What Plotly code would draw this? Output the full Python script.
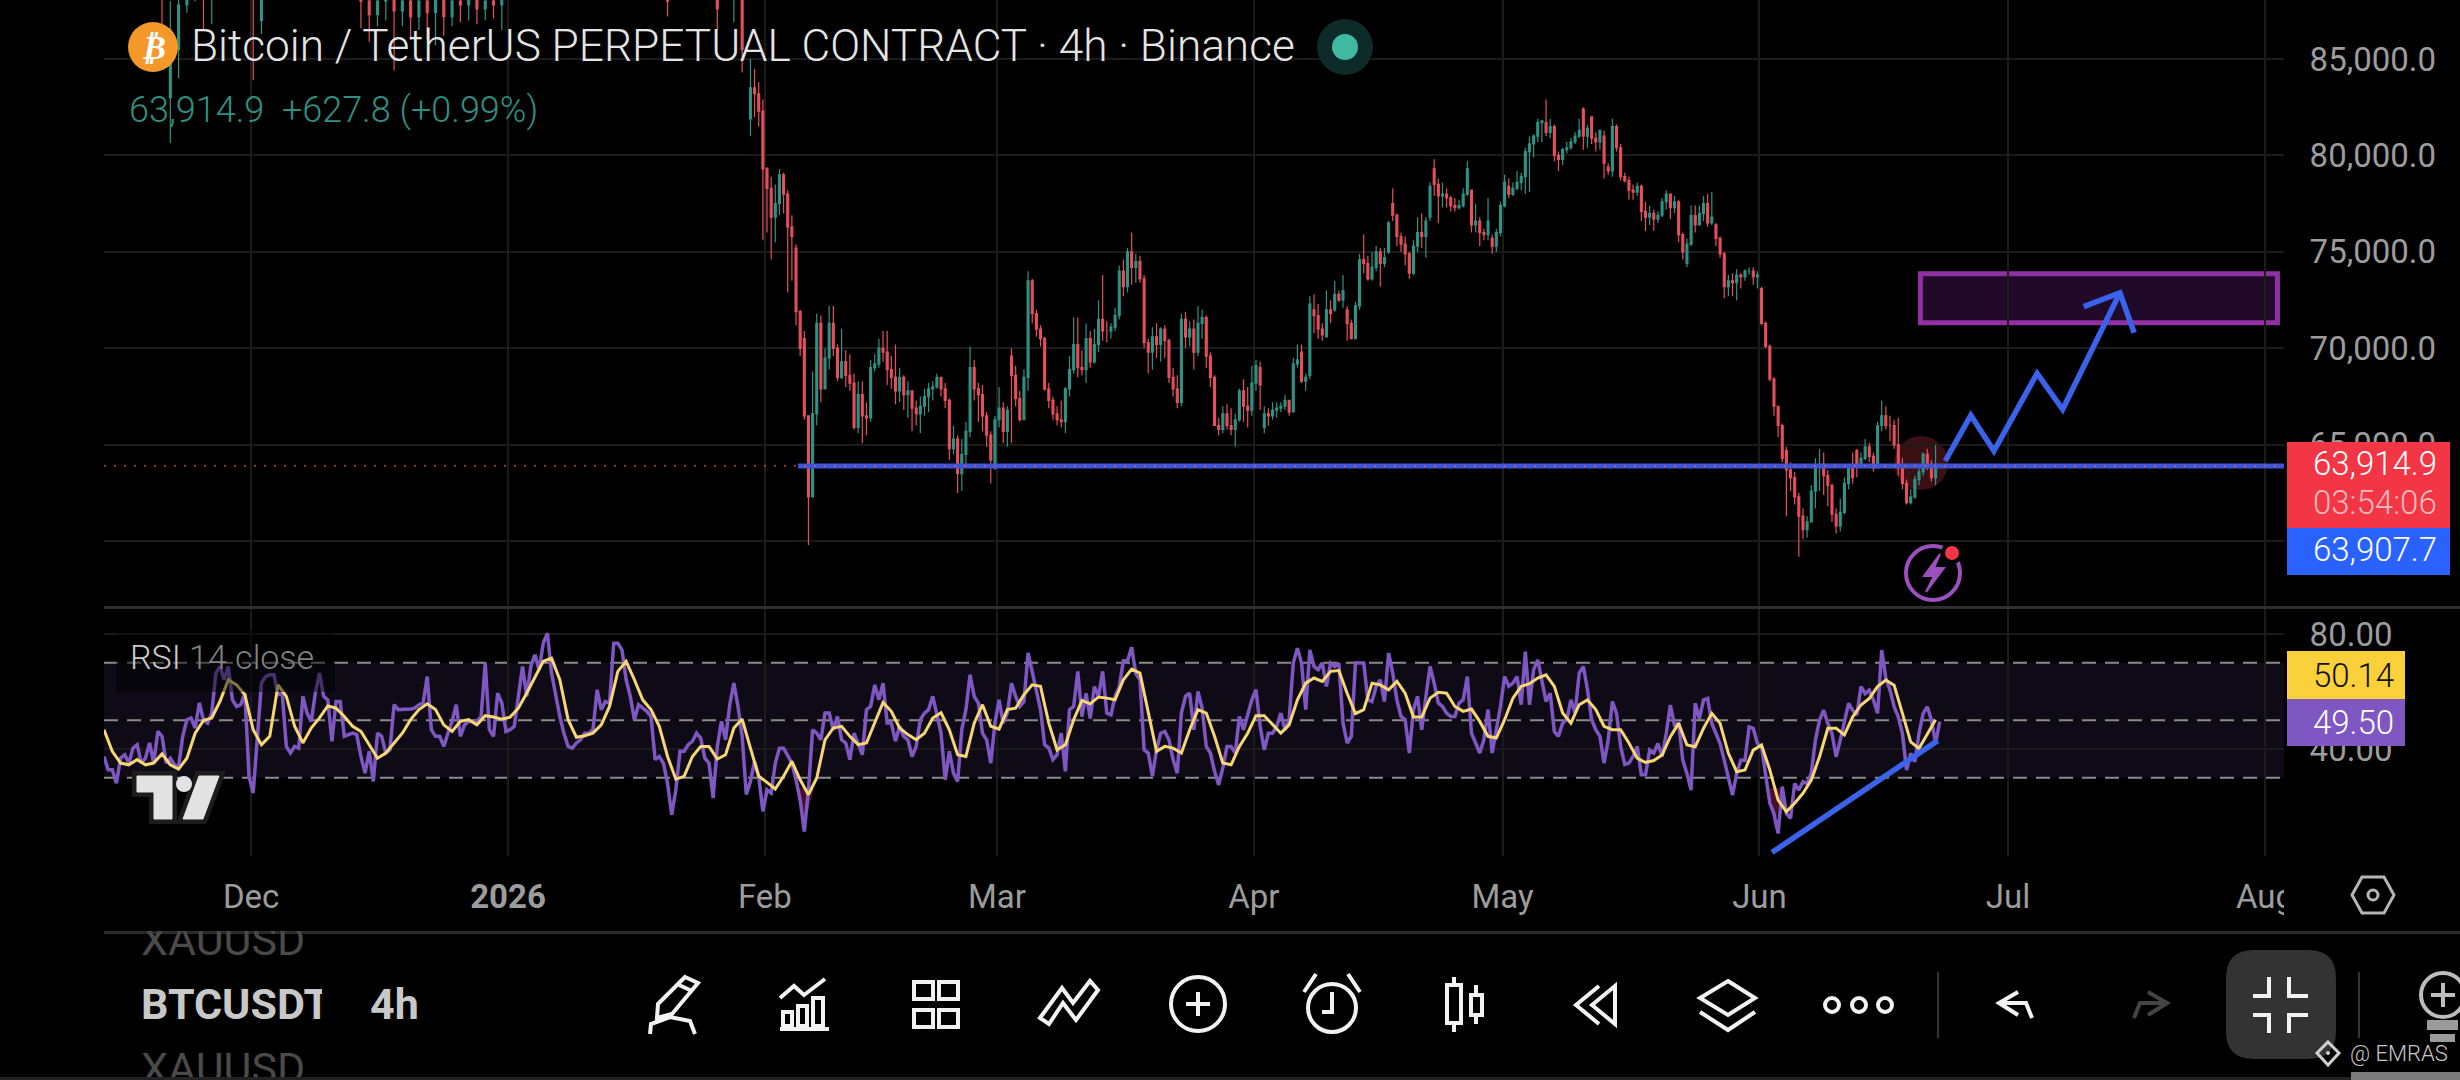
# coding: utf-8
import numpy as np
import pandas as pd
import plotly.graph_objects as go

W, H = 2460, 1080

# price data, thousands of USDT
# a few daily candles that still poke into the top of the pane before the drop
early_dates = ["2025-11-20 06:00", "2025-11-21 06:00", "2025-11-22 06:00", "2025-11-23 06:00", "2025-11-24 06:00",
               "2025-11-25 06:00", "2025-11-26 06:00", "2025-12-01 06:00", "2025-12-02 06:00", "2025-12-14 06:00",
               "2025-12-15 06:00", "2025-12-16 06:00", "2025-12-17 06:00", "2025-12-18 06:00", "2025-12-19 06:00",
               "2025-12-20 06:00", "2025-12-21 06:00", "2025-12-22 06:00", "2025-12-23 06:00", "2025-12-24 06:00",
               "2025-12-25 06:00", "2025-12-26 06:00", "2025-12-27 06:00", "2025-12-28 06:00", "2025-12-29 06:00",
               "2025-12-30 06:00", "2025-12-31 06:00", "2026-01-20 06:00", "2026-01-26 06:00", "2026-01-28 06:00",
               "2026-01-29 06:00"]
early_open = [89.5, 83, 85.5, 87.8, 89, 90, 88.6, 91, 87, 89, 88, 87.3, 88, 88.5, 87.5, 88, 87.2, 88, 87.4, 88.2,
              87.2, 88, 87.8, 88.3, 87.6, 88, 87.8, 89, 88.5, 88.6, 90]
early_high = [91, 88, 89, 90, 91, 91, 90.5, 92, 92, 90, 89, 89, 89, 90, 90, 89, 89, 89, 89, 89, 89, 89, 89, 89, 89,
              89, 89, 90, 89.5, 90, 90]
early_low = [86.8, 80.65, 84, 87.4, 88, 86.5, 86.8, 83.9, 86.3, 86.6, 85.9, 86.7, 87, 84.4, 86.7, 86, 86.5, 86, 85.7,
             86.2, 86.7, 86.9, 87, 86.8, 87, 87.1, 86.5, 87.2, 86.5, 86.9, 84.3]
early_close = [88.5, 85.5, 87.8, 89, 90, 88.6, 90.2, 88.5, 91, 88, 87.3, 88, 88.5, 87.5, 88, 87.2, 88, 87.4, 88.2,
               87.2, 88, 87.8, 88.3, 87.6, 88, 87.8, 88.2, 88, 87.6, 89, 85.5]

# 12h candles from 30 Jan
open_k = [81.9, 83.5, 83.2, 82.3, 79.3, 78.3, 76.8, 77.5, 79, 78,
          76.3, 75.2, 71.9, 70.5, 66.5, 62.3, 66.6, 71.3, 67.9, 69.5,
          71.3, 70, 68.5, 69.3, 68.6, 68.2, 65.9, 67.6, 66.5, 66.4,
          69, 69.2, 70, 69.8, 68.9, 68.5, 67.8, 68.5, 67.6, 67.8,
          66.9, 66.6, 67, 67.5, 67.9, 68, 68.5, 67.9, 67.3, 64.8,
          65.3, 63.5, 64.5, 65.7, 69, 67.9, 67.6, 66.5, 65.5, 63.8,
          66.3, 66.9, 65.7, 69.6, 68.6, 67.4, 66.3, 68.5, 73.5, 71.8,
          71, 70.5, 67.9, 67.3, 66.6, 66.3, 66.2, 67.9, 68.9, 70.2,
          69, 68.9, 70.5, 69.3, 70.2, 71.5, 70.9, 70.9, 71.1, 71.7,
          74, 73.2, 75, 74.2, 74.5, 73.6, 70.3, 69.8, 70.6, 70.2,
          71, 70.4, 68.5, 67.9, 67.2, 71.5, 70.6, 71, 69.8, 71.3,
          71.6, 69.6, 68.5, 66, 65.8, 66.6, 66, 65.8, 66.3, 67.8,
          67, 66.8, 68.2, 69, 65.9, 66.6, 66.5, 66.8, 66.9, 67,
          67.3, 66.7, 69.2, 69.8, 68.3, 68.6, 72, 71.7, 71, 70.6,
          72, 72, 72.8, 72.5, 72, 71.3, 70.5, 72.2, 74.6, 74.4,
          73.6, 74.2, 75, 74.4, 75, 77.5, 76.9, 75.8, 75.4, 74.9,
          73.9, 75.3, 76, 75.8, 76.8, 79.3, 78.5, 77.9, 78, 77.8,
          77.4, 77.3, 77.4, 78, 78.2, 76.4, 76.6, 76, 75.9, 75.7,
          75.3, 76, 77.4, 78.4, 78, 78.3, 78.6, 78.9, 80.2, 80.6,
          81, 81.7, 81.7, 81.2, 81.5, 80, 79.8, 80.3, 80.4, 80.7,
          81, 82.4, 81, 82, 80.9, 80.7, 81, 79.4, 79.2, 81.5,
          80.4, 78.9, 78.7, 78.2, 78.1, 78.4, 77.1, 76.8, 77, 76.7,
          76.9, 77.6, 78, 77.3, 77.6, 75.9, 74.4, 75.4, 76.9, 76.4,
          77, 77.5, 76.5, 76.4, 75.7, 74.9, 73.2, 73.5, 73.4, 73.8,
          73.7, 74, 74, 73.7, 73.1, 71.3, 70.1, 68.4, 67, 66,
          64.7, 63.7, 63.3, 62.3, 61.3, 60.6, 61, 62.6, 63.9, 64,
          63.4, 62.9, 61.4, 60.8, 61.5, 63, 63.8, 64.7, 64, 64.3,
          64.9, 64.4, 63.8, 66, 66.5, 66, 66, 65, 63.8, 63,
          62, 62.3, 63.2, 63.6, 64.5, 64, 63.29]
high_k = [85, 84.5, 83.8, 82.9, 79.4, 78.9, 78.5, 79.3, 79.1, 78.2,
          76.9, 75.4, 72, 70.9, 66.5, 68.8, 71.8, 71.7, 70, 72.2,
          72.2, 70.2, 71, 69.9, 69.7, 68.7, 68.3, 68.3, 67.2, 69.4,
          69.7, 70.5, 70.9, 70.9, 69.6, 70.2, 69, 68.6, 68.3, 67.8,
          67.3, 67.5, 67.9, 68.2, 68.3, 68.7, 68.5, 68.2, 67.4, 66,
          65.5, 65.3, 66.2, 70.1, 69.4, 68.2, 68.1, 66.7, 65.7, 66.5,
          68, 67.2, 67, 70, 69.1, 67.8, 68.9, 74, 73.6, 72,
          71.2, 70.6, 68.2, 67.5, 67, 67.3, 68, 69.6, 71.6, 71.6,
          69.9, 71.3, 70.9, 71, 72.5, 73.8, 71.4, 71.3, 72.1, 74.3,
          74.6, 75.2, 76, 74.9, 74.8, 73.8, 70.5, 71.1, 71.3, 71.1,
          71.2, 70.5, 69, 68.6, 71.8, 71.9, 71.4, 71.5, 72.2, 72,
          71.7, 69.8, 68.6, 66.4, 67, 67.1, 66.9, 66.6, 67.9, 68.4,
          68, 69.1, 69.4, 69.3, 67, 66.9, 67.2, 67.2, 67.2, 67.6,
          67.3, 69.5, 70.2, 70.2, 68.7, 72.7, 72.8, 72.3, 71.3, 73,
          72.5, 73.5, 73, 73.8, 72.2, 71.5, 72.4, 74.9, 75.9, 74.8,
          75, 75.3, 75.2, 75.2, 76.6, 78.3, 77, 76, 75.8, 75,
          75.6, 76.8, 77, 76.8, 78.6, 79.8, 78.8, 78.6, 78.3, 77.9,
          77.8, 77.7, 78.3, 79.7, 78.2, 77.5, 76.8, 76.2, 77.8, 75.9,
          76.2, 77.6, 79, 78.8, 78.6, 79.2, 79.1, 80.4, 81, 81.1,
          81.9, 81.8, 82.9, 81.9, 81.6, 80.2, 80.4, 80.7, 80.9, 81.2,
          81.9, 82.5, 81.6, 82, 81.2, 81.3, 81.3, 79.6, 81.9, 81.6,
          80.6, 79.1, 78.9, 78.5, 78.6, 78.5, 77.6, 77.4, 77.2, 77.1,
          77.8, 78.2, 78, 77.9, 77.7, 76, 75.7, 77.4, 77.4, 77.4,
          77.9, 78, 78.1, 76.5, 75.8, 75, 73.8, 73.9, 74.1, 73.9,
          74.1, 74.2, 74.2, 74, 73.2, 71.4, 70.2, 68.5, 67, 66.1,
          64.9, 64.1, 63.6, 62.5, 61.7, 61.3, 62.9, 64.3, 64.8, 64.6,
          63.7, 63, 61.7, 62.2, 63.3, 64, 64.6, 64.8, 64.6, 65.3,
          65.1, 64.6, 66.2, 67.3, 67, 66.5, 66.3, 66.4, 64.3, 63.2,
          62.7, 63.4, 63.8, 64.6, 64.8, 64.2, 65]
low_k = [81, 82, 81.5, 75.6, 76, 74.6, 75.5, 76.9, 77, 72.9,
         73.5, 71.2, 69.6, 66.3, 59.8, 63.9, 66, 67.2, 68.6, 68.9,
         69.6, 68.3, 68.4, 68, 67.8, 65.8, 65.6, 65.1, 65.5, 66.2,
         68.8, 69, 69.3, 68.1, 67.9, 67.1, 67.2, 66.8, 66.4, 65.7,
         66, 65.6, 66.5, 66.7, 67.3, 67.9, 67.5, 66.9, 64.2, 64.5,
         62.5, 62.6, 63.8, 65.4, 67.3, 66.2, 65.7, 64.9, 63, 63.7,
         65.9, 65.1, 64.9, 65.1, 67, 66.2, 66.3, 67.8, 71.3, 70.6,
         70.1, 67.8, 66.9, 66.3, 66, 65.9, 65.6, 67.5, 68.7, 68.5,
         68.6, 68.2, 69, 69.2, 69.8, 70.4, 70.3, 70.5, 70.9, 71.5,
         72.7, 72.9, 73.3, 73.4, 73.4, 70, 68.7, 68.9, 69.5, 69.3,
         69.5, 68.2, 67.5, 66.9, 67, 70, 70.1, 68.9, 69.6, 70.5,
         69, 68, 66, 65.5, 65.6, 65.8, 65.5, 64.9, 66.2, 66.2,
         65.9, 66.5, 67.8, 66.8, 65.6, 66, 66.3, 66.4, 66.7, 66.8,
         66.5, 66.7, 69, 68.2, 67.8, 68.4, 70.8, 70.5, 70.4, 70.6,
         71.3, 71.9, 72.4, 72.1, 70.4, 70.5, 70.5, 72, 73.9, 73.5,
         73.5, 74, 73.2, 74.2, 74.9, 76.6, 75.3, 75, 74.3, 73.6,
         73.8, 75, 75.2, 74.7, 76.6, 77.9, 76.5, 77.3, 77.3, 77.1,
         77.1, 77.2, 77.3, 77.9, 76, 76, 75.3, 75.6, 75.6, 74.9,
         75, 75.8, 77.3, 77.8, 77.9, 78.2, 78.2, 78, 78.1, 79.9,
         80.7, 80.7, 81, 80.9, 79.7, 79.2, 79.5, 80.1, 80.3, 80.6,
         80.9, 80.3, 80.4, 80.6, 80.2, 80.3, 78.8, 79, 78.9, 80.2,
         78.7, 78.6, 77.7, 77.7, 77.9, 76.6, 76.1, 76.4, 76.1, 76.5,
         76.8, 77.2, 76.7, 77, 75.5, 74.6, 74.2, 75.3, 76, 76.4,
         76.6, 76.3, 76.4, 75.3, 74.7, 72.6, 72.7, 72.7, 72.5, 73.1,
         73.5, 73.8, 73.3, 73.1, 71.2, 70, 68.3, 66.5, 65.4, 64.1,
         61.3, 62.6, 61.9, 59.2, 60.1, 60.2, 61, 61.7, 62.6, 62.4,
         61.8, 61, 60.4, 60.5, 61.4, 62.7, 63, 63.3, 63.9, 64.2,
         64.1, 63.6, 63.8, 65.7, 65.8, 65.2, 64.8, 63.4, 62.7, 61.9,
         61.9, 62.2, 62.9, 63.4, 63.7, 63.1, 62.9]
close_k = [83.5, 83.2, 82.3, 79.3, 78.3, 76.8, 77.5, 79, 78, 76.3,
           75.8, 71.9, 70, 66.5, 62.3, 66.6, 71.3, 67.9, 69.5, 71.3,
           70, 68.5, 69.3, 68.6, 68.2, 65.9, 67.6, 66.5, 66.4, 69,
           69.2, 70, 69.8, 68.9, 68.5, 67.8, 68.5, 67.6, 67.8, 66.9,
           66.6, 67, 67.5, 67.9, 68, 68.5, 67.9, 67.3, 64.8, 65.3,
           63.5, 64.5, 65.7, 69, 67.9, 67.6, 66.5, 65.5, 64.2, 66.3,
           66.9, 65.7, 66.8, 68.6, 67.4, 66.3, 68.5, 73.5, 71.8, 71,
           70.5, 67.9, 67.3, 66.6, 66.3, 66.2, 67.9, 68.9, 70.2, 69,
           68.9, 70.5, 69.3, 70.2, 71.5, 70.9, 70.9, 71.1, 71.7, 74,
           73.2, 75, 74.2, 74.5, 73.6, 70.3, 69.8, 70.6, 70.2, 71,
           70.4, 68.5, 67.9, 67.2, 71.5, 70.6, 71, 69.8, 71.3, 71.6,
           69.6, 68.5, 66, 65.8, 66.6, 66, 65.8, 66.3, 67.8, 67,
           66.8, 68.2, 69.1, 68.1, 66.6, 66.5, 66.8, 66.9, 67, 67.3,
           66.7, 69.2, 69.4, 68.3, 68.5, 72.3, 71.7, 71, 70.7, 72,
           71.8, 72.8, 72.5, 73, 71.3, 70.5, 72.2, 74.6, 74.4, 73.6,
           74.2, 75, 74.4, 74.7, 76.5, 76.9, 75.8, 75.4, 74.9, 73.9,
           75.3, 76, 75.8, 76.6, 78.4, 78.5, 77.9, 78, 77.8, 77.4,
           77.3, 77.4, 78, 79.3, 76.4, 76.6, 76, 75.9, 76.6, 75.3,
           76, 77.4, 78.6, 78, 78.3, 78.6, 78.9, 80.2, 80.6, 81,
           81.7, 81.8, 81.2, 81.5, 80, 79.8, 80.3, 80.4, 80.7, 81,
           81.3, 81, 81.4, 80.9, 80.7, 81.3, 79.6, 79.2, 81.5, 80.4,
           78.9, 78.7, 78.2, 78.1, 78.4, 77.1, 76.8, 77, 76.7, 76.9,
           77.6, 78, 77.3, 77.6, 75.9, 75, 75.4, 76.9, 76.4, 77,
           77.5, 76.5, 76.8, 75.7, 74.9, 73.2, 73.5, 73.4, 73.8, 73.7,
           74, 74, 73.7, 73.8, 71.3, 70.1, 68.4, 67, 66, 64.3,
           63.7, 63.3, 62.3, 61.3, 60.6, 61, 62.6, 63.9, 64, 63.4,
           62.9, 61.4, 60.8, 61.5, 63, 63.8, 63.3, 64, 64.3, 64.9,
           64.4, 63.8, 66, 66.5, 66, 66, 65, 63.8, 63, 62,
           62.3, 63.2, 63.6, 64.5, 64, 63.3, 63.9149]

# RSI, 12h readings, one list per stretch of the chart
rsi_nov = [37.4, 32.8, 32.8, 28.1, 36.8, 38, 35.1, 40.3, 41.5, 35.1, 36.8, 42.1, 35.1, 46.1, 44.4, 35.1, 36.8, 34.5,
           33.9, 44.4, 50.2, 50.8, 47.3, 56, 50.2, 49, 52.5, 66.4, 68.7, 64.1, 68.7, 57.1, 54.8, 55.4, 59.4, 30.5,
           24.7, 43.2, 62.9, 65.2, 65.8, 65.8, 58.9, 59.4, 40.9, 38.6, 40.9, 40.3, 58.3, 52.5, 49.6, 59.4, 66.4, 58.3,
           57.1, 42.7, 56.5, 56.5, 44.4, 45, 45.5, 45, 37.4, 31.6, 39.2, 28.7, 45.5, 44.4, 38.6, 39.7, 55.4, 53.7,
           53.7, 53.9, 53.9, 54.2, 55.4, 56, 65.2, 46.7, 44.4, 44.4, 40.9, 45.5, 49.6, 55.4, 44.4, 48.4, 49.6, 49.6,
           49.6, 51.3, 69.9, 46.7, 44.4, 59.4, 56, 46.1, 46.7, 47.9, 59.4, 68.7, 58.3, 68.7, 72.8, 67.6, 76.8, 80.3,
           66.4, 58.3, 51.3, 45.5, 40.9, 40.3, 42.1, 43.2, 45.5, 45.5, 46.7, 60.6, 53.7, 56.5, 55.9, 76.8, 76.8, 74.5]
rsi_jan = [64.1, 58.3, 50.2, 55.4, 54.2, 53.1, 51.3, 36.3, 37.4, 35.1, 28.1, 17.1, 25.8, 39.2, 39.2, 41.5, 42.7, 45.5,
           43.8, 36.8, 35.1, 22.9, 40.9, 49.6, 43.2, 55.4, 62.9, 54.8, 44.4, 24.2, 28.7, 35.7, 30.5, 18.3, 25.8, 24.7,
           35.1, 40.3, 40.3, 37.4, 35.1, 29.3, 22.3, 11.3, 25.8, 46.7, 45.5, 43.2, 52.5, 52.5, 46.7, 51.3, 43.2, 42.1,
           36.3, 45.5, 42.1, 38, 53.7, 54.8, 62.3, 57.1, 62.9, 49, 49, 42.7, 47.9, 44.4, 43.2, 37.4, 40.9, 50.2, 52.5,
           53.7, 58.3, 52.5, 45.5, 29.3, 39.2, 31.6, 28.7, 46.7, 53.7, 65.8, 58.3, 56, 45.5, 43.2, 35.1, 49, 57.1, 49,
           52.5, 62.9, 58.3, 54.8, 56.5, 73.4, 67, 59.4, 53.7, 41.5, 40.3, 36.3, 38, 45.5, 32.2, 53.7, 54.8, 67, 51.3,
           59.4, 50.6, 61.7, 58.3, 67, 52.5, 51.9, 58.3, 61.7, 70.7, 70.7, 75.4, 66.2, 64.1]
rsi_mar = [64.1, 39.7, 38.6, 30.5, 39.7, 45.5, 46.1, 43.2, 36.3, 31.6, 52.5, 58.3, 59.4, 46.7, 60, 54.2, 40.9, 38.6,
           32.2, 27.5, 33.4, 40.9, 40.9, 38.6, 51.3, 46.7, 52.5, 57.1, 60.6, 47.9, 39.7, 45.5, 45.5, 47.9, 52.5, 46.7,
           50.2, 69.9, 75.1, 69.9, 53.7, 74.5, 68.7, 67.6, 69.9, 61.8, 69.9, 68.7, 69.9, 49, 42.1, 44.4, 69.9, 69.9,
           69.9, 57.1, 56.5, 61.8, 64.1, 56.5, 73.4, 66.4, 57.1, 51.3, 50.2, 38.6, 53.7, 58.3, 46.7, 58.3, 68.7, 62.9,
           56, 54.8, 52.5, 51.3, 51.3, 56, 57.1, 65.2, 45.5, 42.1, 38.6, 43.2, 53.7, 38.6, 46.7, 54.8, 65.2, 61.8,
           62.9, 65.2, 55.4, 73.9, 55.4, 67.6, 71, 64.1, 56.5, 59.4, 46.1, 44.4, 49, 50.2, 57.1, 52.5, 66.4, 68.7,
           60.6, 50.2, 46.7, 44.4, 35.1, 43.2, 56.5, 52.5, 40.9, 34.6, 35.1, 37.4, 40.9, 31, 31, 39.7, 38.6]
rsi_may = [41.9, 37.3, 45.4, 55.3, 48.3, 48.9, 36.1, 31.5, 25.7, 55.9, 50.6, 57, 57.6, 48.9, 45.4, 41.9, 36.1, 30.3,
           24, 31.5, 36.1, 36.1, 47.7, 47.2, 41.9, 40.8, 30.3, 21.1, 17.6, 10.6, 26.9, 17.6, 15.9, 28, 25.7, 28.6, 28,
           31.5, 43.1, 50.1, 53.5, 48.9, 45.4, 37.3, 43.1, 48.9, 55.9, 53.5, 51.8, 61.7, 59.3, 60.5, 57, 52.4, 74.4,
           64.6, 60.5, 54.7, 51.2, 45.4, 32.7, 38.5, 35.6, 45.4, 52.4, 54.7, 50.1, 41.9, 49.5]

# RSI moving average, daily readings
ma_nov = [46.7, 39.2, 35.1, 34.5, 36.3, 34.5, 35.1, 38.3, 34.5, 33, 36.8, 45.5, 49.9, 50.8, 56.6, 64.1, 62.3, 58.9,
          46.7, 41.5, 44.4, 62.3, 58.3, 47.9, 42.1, 47.3, 50.8, 55, 54.2, 51.3, 47.9, 46.1, 41.5, 36.8, 38.6, 42.1,
          45.5, 50.2, 53.7, 55.7, 53.7, 48.4, 46.1, 49.6, 50.2, 48.4, 51.6, 51.1, 50.4, 51.1, 54.2, 59.4, 65.2, 70.5,
          71.6, 64.1, 50.2, 44.1, 44.6, 45.5, 48.4, 54.8, 67]
ma_jan = [70.5, 64.1, 57.1, 53.7, 47.9, 37.4, 29.5, 30.5, 37.4, 40.9, 40.9, 36.5, 38, 47.3, 50.4, 40.3, 30.5, 28.4,
          26.1, 30.5, 35.7, 29.3, 24.1, 29.9, 43.2, 47.3, 47.9, 44.4, 41.5, 42.1, 49, 56.2, 53.1, 47.3, 45, 43.2,
          45.5, 50.8, 52.6, 46.7, 38, 37.4, 49, 55.4, 47.9, 46.9, 53.7, 54.2, 58.9, 62.3, 61.8, 49, 39.7, 41.5, 50.2,
          56.9, 55.7, 58.1, 57.7, 57.1, 64.1, 67.8]
ma_mar = [66.4, 52.5, 39.2, 40.9, 40.3, 38.6, 46.7, 53.7, 52.5, 44.4, 35.1, 34.5, 40.9, 45.5, 51.6, 51.6, 48.4, 45.5,
          48.4, 57.1, 62.9, 64.7, 63.5, 67, 67.3, 59.4, 52.3, 53.7, 62.9, 62.3, 60.6, 63.5, 59.4, 51.1, 51.1, 57.7,
          59.7, 59.4, 54.8, 53.1, 53.9, 49.6, 44.4, 43.8, 50.2, 57.7, 61.8, 62.7, 64.7, 65.8, 61.8, 52.5, 49, 55.4,
          57.1, 53.7, 47.9, 46.7, 46.7, 42.1, 36.8, 35.3, 36]
ma_may = [37.9, 44.3, 48.9, 41.4, 40.8, 47.2, 52.4, 48.9, 38.5, 32.1, 32.7, 39.6, 41.4, 32.7, 22.2, 18.2, 21.1, 24.6,
          29.2, 37.3, 47.2, 47.2, 44.9, 51.2, 55.3, 57.6, 61.7, 64, 62.2, 52.4, 42.5, 40.2, 45.4, 50.14]

# drawings on the chart
support_level = 63907.7
last_price = 63914.9
zigzag_dates = ["2026-06-23 10:00", "2026-06-26 12:00", "2026-06-29 07:00", "2026-07-04 12:00", "2026-07-07 14:00",
                "2026-07-14 12:00"]
zigzag_price = [64160, 66530, 64680, 68700, 66840, 72880]
arrow_dates = ["2026-07-10 03:00", "2026-07-14 12:00", "2026-07-16 05:00"]
arrow_price = [72160, 72880, 70810]
rsi_trend_dates = ["2026-06-02 12:00", "2026-06-22 12:00"]
rsi_trend_vals = [4.0, 42.9]

# axes
month_ticks = ["2025-12-01", "2026-01-01", "2026-02-01", "2026-03-01", "2026-04-01", "2026-05-01", "2026-06-01",
               "2026-07-01", "2026-08-01"]
month_labels = ["Dec", "<b>2026</b>", "Feb", "Mar", "Apr", "May", "Jun", "Jul", "Aug"]
price_ticks = [60000, 65000, 70000, 75000, 80000, 85000]
price_labels = ["", "65,000.0", "70,000.0", "75,000.0", "80,000.0", "85,000.0"]
rsi_ticks = [40, 80]
rsi_labels = ["40.00", "80.00"]

FONT = "Roboto"
UP, DOWN = "#2f9384", "#e5505c"
BLUE = "#3a62ea"
TICK = "#9c9c9c"


def px(x):
    return x / W


def py(y):
    return 1 - y / H


def poly(pts, closed=False):
    d = "M" + " L".join(f"{px(x):.5f},{py(y):.5f}" for x, y in pts)
    return d + (" Z" if closed else "")


shapes = []
notes = []


def stroke(pts, color="#f2f2f2", w=4, closed=False, fill=None):
    shapes.append(dict(type="path", path=poly(pts, closed), xref="paper", yref="paper",
                       line=dict(color=color, width=w), fillcolor=fill))


def box(x0, y0, x1, y1, fill, line=None, w=0, layer="above"):
    shapes.append(dict(type="rect", xref="paper", yref="paper", x0=px(x0), x1=px(x1), y0=py(y1), y1=py(y0),
                       fillcolor=fill, line=dict(color=line or fill, width=w), layer=layer))


def dot(cx, cy, r, fill=None, line=None, w=0, layer="above"):
    shapes.append(dict(type="circle", xref="paper", yref="paper", x0=px(cx - r), x1=px(cx + r), y0=py(cy + r),
                       y1=py(cy - r), fillcolor=fill or "rgba(0,0,0,0)", line=dict(color=line or "rgba(0,0,0,0)", width=w),
                       layer=layer))


def label(text, x, y, size, color, anchor="left", weight=400):
    notes.append(dict(text=text, x=px(x), y=py(y), xref="paper", yref="paper", xanchor=anchor, yanchor="middle",
                      showarrow=False, font=dict(family=FONT, size=size, color=color, weight=weight)))


def mask(x0, y0, x1, y1, fill="#000000"):
    # empty note with a background, covers the end of a text like the app's scrolling list does
    notes.append(dict(text=" ", x=px(x0), y=py(y0), xref="paper", yref="paper", xanchor="left", yanchor="top",
                      showarrow=False, width=x1 - x0, height=y1 - y0, bgcolor=fill, borderpad=0, borderwidth=0,
                      font=dict(size=1)))


fig = go.Figure()

# candles
candle_dates = pd.to_datetime(early_dates).append(pd.date_range("2026-01-30 06:00", periods=len(open_k), freq="12h"))
fig.add_trace(go.Candlestick(
    x=candle_dates,
    open=np.array(early_open + open_k) * 1000,
    high=np.array(early_high + high_k) * 1000,
    low=np.array(early_low + low_k) * 1000,
    close=np.array(early_close + close_k) * 1000,
    increasing=dict(line=dict(color=UP, width=1.2), fillcolor=UP),
    decreasing=dict(line=dict(color=DOWN, width=1.2), fillcolor=DOWN),
    xaxis="x", yaxis="y", whiskerwidth=0,
))

# horizontal level and the pen drawings
fig.add_trace(go.Scatter(x=["2026-02-05 00:00", "2026-08-03 07:00"], y=[support_level, support_level], mode="lines",
                         line=dict(color="#3f55d8", width=5), xaxis="x", yaxis="y"))
fig.add_trace(go.Scatter(x=["2025-11-13 06:00", "2026-08-03 07:00"], y=[last_price, last_price], mode="lines",
                         line=dict(color="rgba(242,90,100,0.75)", width=1.5, dash="2px,8px"), xaxis="x", yaxis="y"))
fig.add_trace(go.Scatter(x=zigzag_dates, y=zigzag_price, mode="lines", line=dict(color=BLUE, width=5.5), xaxis="x", yaxis="y"))
fig.add_trace(go.Scatter(x=arrow_dates, y=arrow_price, mode="lines", line=dict(color=BLUE, width=5.5), xaxis="x", yaxis="y"))

# RSI pane
rsi_dates = pd.date_range("2025-11-13 06:00", periods=len(rsi_nov), freq="12h")
rsi_dates = rsi_dates.append(pd.date_range("2026-01-15 06:00", periods=len(rsi_jan), freq="12h"))
rsi_dates = rsi_dates.append(pd.date_range("2026-03-18 06:00", periods=len(rsi_mar), freq="12h"))
rsi_dates = rsi_dates.append(pd.date_range("2026-05-19 18:00", periods=len(rsi_may), freq="12h"))
ma_dates = pd.date_range("2025-11-13 06:00", periods=len(ma_nov), freq="1D")
ma_dates = ma_dates.append(pd.date_range("2026-01-15 06:00", periods=len(ma_jan), freq="1D"))
ma_dates = ma_dates.append(pd.date_range("2026-03-18 06:00", periods=len(ma_mar), freq="1D"))
ma_dates = ma_dates.append(pd.date_range("2026-05-20 06:00", periods=len(ma_may), freq="1D"))
fig.add_trace(go.Scatter(x=rsi_dates, y=rsi_nov + rsi_jan + rsi_mar + rsi_may, mode="lines",
                         line=dict(color="#7e57c2", width=3.5), xaxis="x2", yaxis="y2"))
fig.add_trace(go.Scatter(x=ma_dates, y=ma_nov + ma_jan + ma_mar + ma_may, mode="lines",
                         line=dict(color="#f7d774", width=3), xaxis="x2", yaxis="y2"))
fig.add_trace(go.Scatter(x=rsi_trend_dates, y=rsi_trend_vals, mode="lines", line=dict(color=BLUE, width=5.5),
                         xaxis="x2", yaxis="y2"))

# RSI band and dashed levels, in axis units
shapes.append(dict(type="rect", xref="x2 domain", yref="y2", x0=0, x1=1, y0=30, y1=70, fillcolor="#0e0a16",
                   line=dict(width=0), layer="below"))
for lvl in [30, 50, 70]:
    shapes.append(dict(type="line", xref="x2 domain", yref="y2", x0=0, x1=1, y0=lvl, y1=lvl, layer="below",
                       line=dict(color="#8a8a8a", width=2, dash="14px,9px")))

# target box in axis units
shapes.append(dict(type="rect", xref="x", yref="y", x0="2026-06-20 10:00", x1="2026-08-02 12:00", y0=71330, y1=73870,
                   fillcolor="#210a29", line=dict(color="#8f30a3", width=5), layer="below"))

# oversold tint under the two deepest RSI dips
shapes.append(dict(type="path", path=poly([(796, 788), (814, 788), (804, 826)], True), xref="paper", yref="paper",
                   fillcolor="#4a0f26", line=dict(width=0), layer="below"))
shapes.append(dict(type="path", path=poly([(1768, 788), (1782, 788), (1774, 828)], True), xref="paper", yref="paper",
                   fillcolor="#4a0f26", line=dict(width=0), layer="below"))

# pane separators
box(104, 606, W, 609, "#303030")
box(104, 931, W, 934, "#2a2a2a")
box(0, 1077, W, H, "#222222")
box(2351, 1072, W, H, "#7d7d7d")

# last price blob
dot(1921, 463, 27, fill="#3a1014", layer="below")

# "Aug" runs under the edge of the price scale
box(2284, 870, 2310, 925, "#000000")

# header
dot(153, 47, 25, fill="#f4982a")
label("<b><i>₿</i></b>", 153, 47, 34, "#ffffff", "center")
label("Bitcoin / TetherUS PERPETUAL CONTRACT · 4h · Binance", 189, 46, 44.2, "#e4e4e4", weight=300)
dot(1345, 47, 28, fill="#0d2b29")
dot(1345, 47, 13, fill="#3fb9a2")
label("63,914.9\u00a0\u00a0+627.8 (+0.99%)", 127, 110, 36, "#2f8f80", weight=300)

# RSI legend
box(116, 630, 335, 692, "rgba(0,0,0,0.45)")
label("<span style='color:#c9c9c9'>RSI</span> 14 close", 128, 657, 34, "#828282", weight=300)

# tradingview logo
stroke([(137, 776), (172, 776), (172, 819), (154, 819), (154, 792), (137, 792)], "#1c1c1c", 10, True, "#e2e2e2")
stroke([(199, 776), (219, 776), (203, 819), (183, 819)], "#1c1c1c", 10, True, "#e2e2e2")
stroke([(137, 776), (172, 776), (172, 819), (154, 819), (154, 792), (137, 792)], "#e2e2e2", 1, True, "#e2e2e2")
stroke([(199, 776), (219, 776), (203, 819), (183, 819)], "#e2e2e2", 1, True, "#e2e2e2")
dot(184, 784, 8, fill="#e2e2e2")

# price labels
box(2287, 442, 2450, 528, "#f23645")
box(2287, 528, 2450, 575, "#2962ff")
label("63,914.9", 2311, 463, 33, "#ffffff", weight=300)
label("03:54:06", 2311, 502, 33, "#f7b9be", weight=300)
label("63,907.7", 2311, 549, 33, "#ffffff", weight=300)
box(2287, 651, 2405, 699, "#fbd13b")
box(2287, 699, 2405, 746, "#7e57c2")
label("50.14", 2311, 675, 33, "#111111", weight=300)
label("49.50", 2311, 722, 33, "#ffffff", weight=300)

# settings hexagon on the time scale
stroke([(2362, 877), (2384, 877), (2394, 895), (2384, 913), (2362, 913), (2352, 895)], "#b5b5b5", 3, True)
dot(2373, 895, 5, line="#b5b5b5", w=3)

# lightning badge
dot(1933, 573, 27, line="#9c50bb", w=4)
stroke([(1940, 554), (1924, 576), (1934, 576), (1926, 592), (1944, 568), (1934, 568)], "#9c50bb", 2, True, "#9c50bb")
dot(1952, 553, 11, fill="#000000")
dot(1952, 553, 7, fill="#f23645")

# toolbar text
label("XAUUSD", 139, 940, 43, "#4a4a4a")
label("<b>BTCUSDT</b>", 139, 1004, 43, "#c8c8c8")
label("<b>4h</b>", 368, 1004, 43, "#c8c8c8")
label("XAUUSD", 139, 1068, 43, "#4a4a4a")
mask(130, 912, 330, 931)
mask(322, 980, 352, 1030)
mask(130, 1077, 330, 1080, "#222222")

# pencil
stroke([(685, 977), (698, 983), (672, 1014), (657, 1018), (658, 1004)], closed=True)
stroke([(679, 985), (692, 991)])
stroke([(650, 1034), (651, 1024), (670, 1017), (690, 1021), (695, 1034)])
# indicators
stroke([(780, 998), (794, 986), (804, 995), (825, 979)])
box(783, 1012, 792, 1026, "rgba(0,0,0,0)", "#f2f2f2", 4)
box(798, 1006, 807, 1026, "rgba(0,0,0,0)", "#f2f2f2", 4)
box(813, 998, 823, 1026, "rgba(0,0,0,0)", "#f2f2f2", 4)
stroke([(780, 1029), (829, 1029)])
# layouts
for x0 in (914, 939):
    for y0 in (982, 1010):
        box(x0, y0, x0 + 19, y0 + 17, "rgba(0,0,0,0)", "#f2f2f2", 4)
# templates
stroke([(1040, 1018), (1062, 988), (1073, 1003), (1090, 981), (1098, 990), (1076, 1020), (1063, 1003), (1049, 1024)],
       closed=True)
# plus
dot(1198, 1004, 27, line="#f2f2f2", w=4)
stroke([(1186, 1004), (1210, 1004)])
stroke([(1198, 992), (1198, 1016)])
# alarm
dot(1332, 1008, 24, line="#f2f2f2", w=4)
stroke([(1332, 992), (1332, 1012), (1322, 1012)])
stroke([(1304, 992), (1316, 974)])
stroke([(1360, 992), (1348, 974)])
# candles
box(1447, 985, 1461, 1023, "rgba(0,0,0,0)", "#f2f2f2", 4)
stroke([(1454, 977), (1454, 985)])
stroke([(1454, 1023), (1454, 1032)])
box(1471, 995, 1482, 1015, "rgba(0,0,0,0)", "#f2f2f2", 4)
stroke([(1476, 985), (1476, 995)])
stroke([(1476, 1015), (1476, 1024)])
# replay
stroke([(1599, 986), (1576, 1005), (1599, 1024)])
stroke([(1615, 986), (1592, 1005), (1615, 1024)], closed=True)
# layers
stroke([(1728, 981), (1755, 998), (1728, 1015), (1700, 998)], closed=True)
stroke([(1700, 1012), (1728, 1030), (1755, 1012)])
# more
for cx in (1832, 1859, 1885):
    dot(cx, 1005, 7, line="#f2f2f2", w=4)
box(1937, 972, 1939, 1038, "#333333")
# undo and redo
stroke([(2018, 992), (1999, 1003), (2018, 1015)])
stroke([(1999, 1003), (2026, 1003), (2032, 1018)])
stroke([(2148, 992), (2167, 1003), (2148, 1015)], "#444444")
stroke([(2167, 1003), (2140, 1003), (2134, 1018)], "#444444")
# exit fullscreen button
d = (f"M{px(2254):.5f},{py(950):.5f} L{px(2308):.5f},{py(950):.5f} Q{px(2336):.5f},{py(950):.5f} {px(2336):.5f},{py(978):.5f} "
     f"L{px(2336):.5f},{py(1031):.5f} Q{px(2336):.5f},{py(1059):.5f} {px(2308):.5f},{py(1059):.5f} "
     f"L{px(2254):.5f},{py(1059):.5f} Q{px(2226):.5f},{py(1059):.5f} {px(2226):.5f},{py(1031):.5f} "
     f"L{px(2226):.5f},{py(978):.5f} Q{px(2226):.5f},{py(950):.5f} {px(2254):.5f},{py(950):.5f} Z")
shapes.append(dict(type="path", path=d, xref="paper", yref="paper", fillcolor="#333333", line=dict(width=0)))
stroke([(2253, 996), (2269, 996), (2269, 977)])
stroke([(2308, 996), (2289, 996), (2289, 977)])
stroke([(2253, 1015), (2269, 1015), (2269, 1033)])
stroke([(2308, 1015), (2289, 1015), (2289, 1033)])
box(2358, 972, 2360, 1038, "#333333")
# bulb
dot(2443, 995, 22, line="#bdbdbd", w=4)
stroke([(2431, 995), (2455, 995)], "#bdbdbd")
stroke([(2443, 983), (2443, 1007)], "#bdbdbd")
box(2427, 1020, 2458, 1030, "#9a9a9a")
box(2430, 1034, 2455, 1042, "#9a9a9a")
# watermark
stroke([(2328, 1042), (2339, 1053), (2328, 1065), (2317, 1053)], "#d0d0d0", 3, True)
dot(2328, 1053, 2, fill="#d0d0d0")
label("@ EMRAS", 2348, 1053, 22, "#c8c8c8", weight=300)

fig.update_layout(
    width=W, height=H, autosize=False,
    paper_bgcolor="#000000", plot_bgcolor="#000000",
    margin=dict(l=0, r=0, t=0, b=0), showlegend=False, boxgap=0.35,
    font=dict(family=FONT, color=TICK),
    shapes=shapes, annotations=notes,
    xaxis=dict(domain=[px(104), px(2284)], range=["2025-11-13 06:00", "2026-08-03 07:00"], type="date",
               anchor="y", tickvals=month_ticks, showticklabels=False, ticks="", gridcolor="#1b1b1b", gridwidth=1.5,
               rangeslider=dict(visible=False), showline=False, zeroline=False, automargin=False),
    xaxis2=dict(domain=[px(104), px(2284)], range=["2025-11-13 06:00", "2026-08-03 07:00"], type="date",
                anchor="y2", tickvals=month_ticks, ticktext=month_labels, ticks="outside", ticklen=11,
                tickcolor="rgba(0,0,0,0)", tickfont=dict(size=33, color=TICK, family=FONT), gridcolor="#1b1b1b",
                gridwidth=1.5, showline=False, zeroline=False, automargin=False),
    yaxis=dict(domain=[py(607), 1], range=[56592, 88059], side="right", anchor="x", tickvals=price_ticks,
               ticktext=price_labels, ticks="outside", ticklen=18, tickcolor="rgba(0,0,0,0)",
               tickfont=dict(size=33, color=TICK, family=FONT), gridcolor="#1b1b1b", gridwidth=1.5, showline=False,
               zeroline=False, automargin=False),
    yaxis2=dict(domain=[py(856), py(607)], range=[2.77, 89.4], side="right", anchor="x2", tickvals=rsi_ticks,
                ticktext=rsi_labels, ticks="outside", ticklen=18, tickcolor="rgba(0,0,0,0)",
                tickfont=dict(size=33, color=TICK, family=FONT), gridcolor="#1b1b1b", gridwidth=1.5, showline=False,
                zeroline=False, automargin=False),
)

fig.write_html("out.html", config=dict(displayModeBar=False),
               post_script="document.documentElement.style.overflow='hidden';document.body.style.margin='0';"
                           "document.body.style.background='#000';")
